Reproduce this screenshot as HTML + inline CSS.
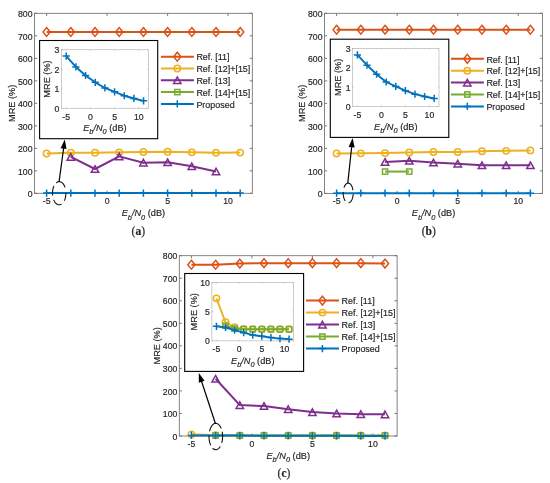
<!DOCTYPE html>
<html><head><meta charset="utf-8"><title>MRE figure</title>
<style>
html,body{margin:0;padding:0;background:#fff;}
body{width:550px;height:483px;overflow:hidden;}
svg{display:block;}
svg text{fill:#262626;font-family:'Liberation Sans', Arial, sans-serif;stroke:#262626;stroke-width:0.18px;}
</style></head><body>
<svg width="550" height="483" viewBox="0 0 550 483">
<rect width="550" height="483" fill="#fff"/>
<rect x="34.5" y="13.3" width="217.8" height="180" fill="none" stroke="#6e6e6e" stroke-width="0.85"/><path d="M46.6 193.3V190.7M46.6 13.3V15.9M107.1 193.3V190.7M107.1 13.3V15.9M167.6 193.3V190.7M167.6 13.3V15.9M228.1 193.3V190.7M228.1 13.3V15.9M34.5 193.3H37.1M252.3 193.3H249.7M34.5 170.8H37.1M252.3 170.8H249.7M34.5 148.3H37.1M252.3 148.3H249.7M34.5 125.8H37.1M252.3 125.8H249.7M34.5 103.3H37.1M252.3 103.3H249.7M34.5 80.8H37.1M252.3 80.8H249.7M34.5 58.3H37.1M252.3 58.3H249.7M34.5 35.8H37.1M252.3 35.8H249.7M34.5 13.3H37.1M252.3 13.3H249.7" stroke="#6e6e6e" stroke-width="0.935" fill="none"/><text transform="translate(46.6 201) scale(1 1.14)" font-size="8.7" text-anchor="middle" dominant-baseline="central">-5</text><text transform="translate(107.1 201) scale(1 1.14)" font-size="8.7" text-anchor="middle" dominant-baseline="central">0</text><text transform="translate(167.6 201) scale(1 1.14)" font-size="8.7" text-anchor="middle" dominant-baseline="central">5</text><text transform="translate(228.1 201) scale(1 1.14)" font-size="8.7" text-anchor="middle" dominant-baseline="central">10</text><text transform="translate(32.5 193.9) scale(1 1.14)" font-size="8.7" text-anchor="end" dominant-baseline="central">0</text><text transform="translate(32.5 171.4) scale(1 1.14)" font-size="8.7" text-anchor="end" dominant-baseline="central">100</text><text transform="translate(32.5 148.9) scale(1 1.14)" font-size="8.7" text-anchor="end" dominant-baseline="central">200</text><text transform="translate(32.5 126.4) scale(1 1.14)" font-size="8.7" text-anchor="end" dominant-baseline="central">300</text><text transform="translate(32.5 103.9) scale(1 1.14)" font-size="8.7" text-anchor="end" dominant-baseline="central">400</text><text transform="translate(32.5 81.4) scale(1 1.14)" font-size="8.7" text-anchor="end" dominant-baseline="central">500</text><text transform="translate(32.5 58.9) scale(1 1.14)" font-size="8.7" text-anchor="end" dominant-baseline="central">600</text><text transform="translate(32.5 36.4) scale(1 1.14)" font-size="8.7" text-anchor="end" dominant-baseline="central">700</text><text transform="translate(32.5 13.9) scale(1 1.14)" font-size="8.7" text-anchor="end" dominant-baseline="central">800</text><text transform="translate(14.6 103.3) rotate(-90) scale(1 0.9)" font-size="9.2" text-anchor="middle">MRE (%)</text><text transform="translate(143.4 215.9) scale(1 0.9)" font-size="9.2" text-anchor="middle"><tspan font-style="italic">E</tspan><tspan font-style="italic" font-size="7.36" dy="4.0">b</tspan><tspan font-style="italic" dy="-4.0">/N</tspan><tspan font-style="italic" font-size="7.36" dy="4.0">0</tspan><tspan dy="-4.0"> (dB)</tspan></text><polyline points="46.6,31.98 70.8,31.98 95,31.98 119.2,31.98 143.4,31.98 167.6,31.98 191.8,31.98 216,31.98 240.2,31.98" fill="none" stroke="#D95319" stroke-width="2.0" stroke-linejoin="round"/><path d="M46.6 27.58L50.2 31.98L46.6 36.38L43 31.98Z" fill="none" stroke="#D95319" stroke-width="1.5"/><path d="M70.8 27.58L74.4 31.98L70.8 36.38L67.2 31.98Z" fill="none" stroke="#D95319" stroke-width="1.5"/><path d="M95 27.58L98.6 31.98L95 36.38L91.4 31.98Z" fill="none" stroke="#D95319" stroke-width="1.5"/><path d="M119.2 27.58L122.8 31.98L119.2 36.38L115.6 31.98Z" fill="none" stroke="#D95319" stroke-width="1.5"/><path d="M143.4 27.58L147 31.98L143.4 36.38L139.8 31.98Z" fill="none" stroke="#D95319" stroke-width="1.5"/><path d="M167.6 27.58L171.2 31.98L167.6 36.38L164 31.98Z" fill="none" stroke="#D95319" stroke-width="1.5"/><path d="M191.8 27.58L195.4 31.98L191.8 36.38L188.2 31.98Z" fill="none" stroke="#D95319" stroke-width="1.5"/><path d="M216 27.58L219.6 31.98L216 36.38L212.4 31.98Z" fill="none" stroke="#D95319" stroke-width="1.5"/><path d="M240.2 27.58L243.8 31.98L240.2 36.38L236.6 31.98Z" fill="none" stroke="#D95319" stroke-width="1.5"/><polyline points="46.6,153.48 70.8,152.8 95,152.8 119.2,152.35 143.4,151.9 167.6,151.68 191.8,152.35 216,152.8 240.2,152.58" fill="none" stroke="#EDB120" stroke-width="2.0" stroke-linejoin="round"/><circle cx="46.6" cy="153.48" r="3.2" fill="none" stroke="#EDB120" stroke-width="1.5"/><circle cx="70.8" cy="152.8" r="3.2" fill="none" stroke="#EDB120" stroke-width="1.5"/><circle cx="95" cy="152.8" r="3.2" fill="none" stroke="#EDB120" stroke-width="1.5"/><circle cx="119.2" cy="152.35" r="3.2" fill="none" stroke="#EDB120" stroke-width="1.5"/><circle cx="143.4" cy="151.9" r="3.2" fill="none" stroke="#EDB120" stroke-width="1.5"/><circle cx="167.6" cy="151.68" r="3.2" fill="none" stroke="#EDB120" stroke-width="1.5"/><circle cx="191.8" cy="152.35" r="3.2" fill="none" stroke="#EDB120" stroke-width="1.5"/><circle cx="216" cy="152.8" r="3.2" fill="none" stroke="#EDB120" stroke-width="1.5"/><circle cx="240.2" cy="152.58" r="3.2" fill="none" stroke="#EDB120" stroke-width="1.5"/><polyline points="70.8,156.85 95,169 119.2,156.4 143.4,162.7 167.6,162.25 191.8,166.3 216,171.48" fill="none" stroke="#7E2F8E" stroke-width="2.0" stroke-linejoin="round"/><path d="M70.8 153.55L74.5 160.15L67.1 160.15Z" fill="none" stroke="#7E2F8E" stroke-width="1.5" stroke-linejoin="miter"/><path d="M95 165.7L98.7 172.3L91.3 172.3Z" fill="none" stroke="#7E2F8E" stroke-width="1.5" stroke-linejoin="miter"/><path d="M119.2 153.1L122.9 159.7L115.5 159.7Z" fill="none" stroke="#7E2F8E" stroke-width="1.5" stroke-linejoin="miter"/><path d="M143.4 159.4L147.1 166L139.7 166Z" fill="none" stroke="#7E2F8E" stroke-width="1.5" stroke-linejoin="miter"/><path d="M167.6 158.95L171.3 165.55L163.9 165.55Z" fill="none" stroke="#7E2F8E" stroke-width="1.5" stroke-linejoin="miter"/><path d="M191.8 163L195.5 169.6L188.1 169.6Z" fill="none" stroke="#7E2F8E" stroke-width="1.5" stroke-linejoin="miter"/><path d="M216 168.18L219.7 174.78L212.3 174.78Z" fill="none" stroke="#7E2F8E" stroke-width="1.5" stroke-linejoin="miter"/><polyline points="46.6,193.08 70.8,193.08 95,193.08 119.2,193.08 143.4,193.08 167.6,193.08 191.8,193.08 216,193.08 240.2,193.08" fill="none" stroke="#0072BD" stroke-width="2.0" stroke-linejoin="round"/><path d="M43 193.08H50.2M46.6 189.48V196.68" stroke="#0072BD" stroke-width="1.5"/><path d="M67.2 193.08H74.4M70.8 189.48V196.68" stroke="#0072BD" stroke-width="1.5"/><path d="M91.4 193.08H98.6M95 189.48V196.68" stroke="#0072BD" stroke-width="1.5"/><path d="M115.6 193.08H122.8M119.2 189.48V196.68" stroke="#0072BD" stroke-width="1.5"/><path d="M139.8 193.08H147M143.4 189.48V196.68" stroke="#0072BD" stroke-width="1.5"/><path d="M164 193.08H171.2M167.6 189.48V196.68" stroke="#0072BD" stroke-width="1.5"/><path d="M188.2 193.08H195.4M191.8 189.48V196.68" stroke="#0072BD" stroke-width="1.5"/><path d="M212.4 193.08H219.6M216 189.48V196.68" stroke="#0072BD" stroke-width="1.5"/><path d="M236.6 193.08H243.8M240.2 189.48V196.68" stroke="#0072BD" stroke-width="1.5"/><rect x="39.6" y="40.5" width="118.1" height="98.2" fill="#fff" stroke="#000" stroke-width="1.1"/><rect x="61.4" y="49.8" width="87" height="58.4" fill="#fff"/><rect x="61.4" y="49.8" width="87" height="58.4" fill="none" stroke="#9a9a9a" stroke-width="0.5"/><path d="M66.23 108.2V107.2M66.23 49.8V50.8M90.4 108.2V107.2M90.4 49.8V50.8M114.57 108.2V107.2M114.57 49.8V50.8M138.73 108.2V107.2M138.73 49.8V50.8M61.4 108.2H62.4M148.4 108.2H147.4M61.4 88.73H62.4M148.4 88.73H147.4M61.4 69.27H62.4M148.4 69.27H147.4M61.4 49.8H62.4M148.4 49.8H147.4" stroke="#9a9a9a" stroke-width="0.55" fill="none"/><text transform="translate(66.23 116.4) scale(1 1.14)" font-size="8.7" text-anchor="middle" dominant-baseline="central">-5</text><text transform="translate(90.4 116.4) scale(1 1.14)" font-size="8.7" text-anchor="middle" dominant-baseline="central">0</text><text transform="translate(114.57 116.4) scale(1 1.14)" font-size="8.7" text-anchor="middle" dominant-baseline="central">5</text><text transform="translate(138.73 116.4) scale(1 1.14)" font-size="8.7" text-anchor="middle" dominant-baseline="central">10</text><text transform="translate(59.4 108.6) scale(1 1.14)" font-size="8.7" text-anchor="end" dominant-baseline="central">0</text><text transform="translate(59.4 89.13) scale(1 1.14)" font-size="8.7" text-anchor="end" dominant-baseline="central">1</text><text transform="translate(59.4 69.67) scale(1 1.14)" font-size="8.7" text-anchor="end" dominant-baseline="central">2</text><text transform="translate(59.4 50.2) scale(1 1.14)" font-size="8.7" text-anchor="end" dominant-baseline="central">3</text><text transform="translate(50.4 79) rotate(-90) scale(1 0.9)" font-size="9.2" text-anchor="middle">MRE (%)</text><text transform="translate(104.9 130.8) scale(1 0.9)" font-size="9.2" text-anchor="middle"><tspan font-style="italic">E</tspan><tspan font-style="italic" font-size="7.36" dy="4.0">b</tspan><tspan font-style="italic" dy="-4.0">/N</tspan><tspan font-style="italic" font-size="7.36" dy="4.0">0</tspan><tspan dy="-4.0"> (dB)</tspan></text><polyline points="66.23,56.03 75.9,66.93 85.57,75.5 95.23,82.31 104.9,87.95 114.57,91.85 124.23,95.74 133.9,98.47 143.57,100.8" fill="none" stroke="#0072BD" stroke-width="1.9" stroke-linejoin="round"/><path d="M62.63 56.03H69.83M66.23 52.43V59.63" stroke="#0072BD" stroke-width="1.5"/><path d="M72.3 66.93H79.5M75.9 63.33V70.53" stroke="#0072BD" stroke-width="1.5"/><path d="M81.97 75.5H89.17M85.57 71.9V79.1" stroke="#0072BD" stroke-width="1.5"/><path d="M91.63 82.31H98.83M95.23 78.71V85.91" stroke="#0072BD" stroke-width="1.5"/><path d="M101.3 87.95H108.5M104.9 84.35V91.55" stroke="#0072BD" stroke-width="1.5"/><path d="M110.97 91.85H118.17M114.57 88.25V95.45" stroke="#0072BD" stroke-width="1.5"/><path d="M120.63 95.74H127.83M124.23 92.14V99.34" stroke="#0072BD" stroke-width="1.5"/><path d="M130.3 98.47H137.5M133.9 94.87V102.07" stroke="#0072BD" stroke-width="1.5"/><path d="M139.97 100.8H147.17M143.57 97.2V104.4" stroke="#0072BD" stroke-width="1.5"/><path d="M160.9 56.7H193.9" stroke="#D95319" stroke-width="2.0"/><path d="M177.3 52.3L180.9 56.7L177.3 61.1L173.7 56.7Z" fill="none" stroke="#D95319" stroke-width="1.5"/><text transform="translate(196.4 57.5) scale(1 0.95)" font-size="8.95" dominant-baseline="central">Ref. [11]</text><path d="M160.9 68.5H193.9" stroke="#EDB120" stroke-width="2.0"/><circle cx="177.3" cy="68.5" r="3.2" fill="none" stroke="#EDB120" stroke-width="1.5"/><text transform="translate(196.4 69.3) scale(1 0.95)" font-size="8.95" dominant-baseline="central">Ref. [12]+[15]</text><path d="M160.9 80.3H193.9" stroke="#7E2F8E" stroke-width="2.0"/><path d="M177.3 77L181 83.6L173.6 83.6Z" fill="none" stroke="#7E2F8E" stroke-width="1.5" stroke-linejoin="miter"/><text transform="translate(196.4 81.1) scale(1 0.95)" font-size="8.95" dominant-baseline="central">Ref. [13]</text><path d="M160.9 92.1H193.9" stroke="#77AC30" stroke-width="2.0"/><rect x="174.7" y="89.5" width="5.2" height="5.2" fill="none" stroke="#77AC30" stroke-width="1.5"/><text transform="translate(196.4 92.9) scale(1 0.95)" font-size="8.95" dominant-baseline="central">Ref. [14]+[15]</text><path d="M160.9 103.9H193.9" stroke="#0072BD" stroke-width="2.0"/><path d="M173.7 103.9H180.9M177.3 100.3V107.5" stroke="#0072BD" stroke-width="1.5"/><text transform="translate(196.4 104.7) scale(1 0.95)" font-size="8.95" dominant-baseline="central">Proposed</text><path d="M56.47 182.6L57.16 182.15L57.88 181.83L58.61 181.65L59.34 181.6L60.08 181.7L60.8 181.94L61.51 182.31L62.19 182.82L62.83 183.45L63.42 184.19L63.97 185.05L64.46 186.01L64.88 187.05M65.9 193.2L65.86 194.48L65.74 195.74L65.53 196.98L65.26 198.16L64.9 199.29L64.48 200.34M61.27 204.23L60.54 204.57L59.79 204.75L59.04 204.8L58.29 204.69L57.55 204.44L56.83 204.05L56.14 203.52L55.49 202.86L54.89 202.07L54.34 201.18L53.85 200.18M52.58 195.01L52.51 193.72L52.52 192.42L52.61 191.13L52.78 189.86L53.04 188.64L53.37 187.48L53.78 186.38" fill="none" stroke="#111" stroke-width="1.1" stroke-linecap="round"/><path d="M59.1 181.5L63.7 147.63" stroke="#000" stroke-width="1.2"/><path d="M64.8 139.5L66.54 149.02L60.59 148.21Z" fill="#000"/><text x="138.3" y="235" style="font-family:'Liberation Serif', 'Times New Roman', serif" font-size="11.6" text-anchor="middle">(<tspan style="font-weight:bold">a</tspan>)</text><rect x="324.5" y="13.3" width="218" height="180.1" fill="none" stroke="#6e6e6e" stroke-width="0.85"/><path d="M336.61 193.4V190.8M336.61 13.3V15.9M397.17 193.4V190.8M397.17 13.3V15.9M457.72 193.4V190.8M457.72 13.3V15.9M518.28 193.4V190.8M518.28 13.3V15.9M324.5 193.4H327.1M542.5 193.4H539.9M324.5 170.89H327.1M542.5 170.89H539.9M324.5 148.38H327.1M542.5 148.38H539.9M324.5 125.86H327.1M542.5 125.86H539.9M324.5 103.35H327.1M542.5 103.35H539.9M324.5 80.84H327.1M542.5 80.84H539.9M324.5 58.33H327.1M542.5 58.33H539.9M324.5 35.81H327.1M542.5 35.81H539.9M324.5 13.3H327.1M542.5 13.3H539.9" stroke="#6e6e6e" stroke-width="0.935" fill="none"/><text transform="translate(336.61 201.1) scale(1 1.14)" font-size="8.7" text-anchor="middle" dominant-baseline="central">-5</text><text transform="translate(397.17 201.1) scale(1 1.14)" font-size="8.7" text-anchor="middle" dominant-baseline="central">0</text><text transform="translate(457.72 201.1) scale(1 1.14)" font-size="8.7" text-anchor="middle" dominant-baseline="central">5</text><text transform="translate(518.28 201.1) scale(1 1.14)" font-size="8.7" text-anchor="middle" dominant-baseline="central">10</text><text transform="translate(322.5 194) scale(1 1.14)" font-size="8.7" text-anchor="end" dominant-baseline="central">0</text><text transform="translate(322.5 171.49) scale(1 1.14)" font-size="8.7" text-anchor="end" dominant-baseline="central">100</text><text transform="translate(322.5 148.97) scale(1 1.14)" font-size="8.7" text-anchor="end" dominant-baseline="central">200</text><text transform="translate(322.5 126.46) scale(1 1.14)" font-size="8.7" text-anchor="end" dominant-baseline="central">300</text><text transform="translate(322.5 103.95) scale(1 1.14)" font-size="8.7" text-anchor="end" dominant-baseline="central">400</text><text transform="translate(322.5 81.44) scale(1 1.14)" font-size="8.7" text-anchor="end" dominant-baseline="central">500</text><text transform="translate(322.5 58.93) scale(1 1.14)" font-size="8.7" text-anchor="end" dominant-baseline="central">600</text><text transform="translate(322.5 36.41) scale(1 1.14)" font-size="8.7" text-anchor="end" dominant-baseline="central">700</text><text transform="translate(322.5 13.9) scale(1 1.14)" font-size="8.7" text-anchor="end" dominant-baseline="central">800</text><text transform="translate(304.5 103.35) rotate(-90) scale(1 0.9)" font-size="9.2" text-anchor="middle">MRE (%)</text><text transform="translate(433.5 216) scale(1 0.9)" font-size="9.2" text-anchor="middle"><tspan font-style="italic">E</tspan><tspan font-style="italic" font-size="7.36" dy="4.0">b</tspan><tspan font-style="italic" dy="-4.0">/N</tspan><tspan font-style="italic" font-size="7.36" dy="4.0">0</tspan><tspan dy="-4.0"> (dB)</tspan></text><polyline points="336.61,29.73 360.83,29.73 385.06,29.73 409.28,29.73 433.5,29.73 457.72,29.73 481.94,29.73 506.17,29.73 530.39,29.73" fill="none" stroke="#D95319" stroke-width="2.0" stroke-linejoin="round"/><path d="M336.61 25.33L340.21 29.73L336.61 34.13L333.01 29.73Z" fill="none" stroke="#D95319" stroke-width="1.5"/><path d="M360.83 25.33L364.43 29.73L360.83 34.13L357.23 29.73Z" fill="none" stroke="#D95319" stroke-width="1.5"/><path d="M385.06 25.33L388.66 29.73L385.06 34.13L381.46 29.73Z" fill="none" stroke="#D95319" stroke-width="1.5"/><path d="M409.28 25.33L412.88 29.73L409.28 34.13L405.68 29.73Z" fill="none" stroke="#D95319" stroke-width="1.5"/><path d="M433.5 25.33L437.1 29.73L433.5 34.13L429.9 29.73Z" fill="none" stroke="#D95319" stroke-width="1.5"/><path d="M457.72 25.33L461.32 29.73L457.72 34.13L454.12 29.73Z" fill="none" stroke="#D95319" stroke-width="1.5"/><path d="M481.94 25.33L485.54 29.73L481.94 34.13L478.34 29.73Z" fill="none" stroke="#D95319" stroke-width="1.5"/><path d="M506.17 25.33L509.77 29.73L506.17 34.13L502.57 29.73Z" fill="none" stroke="#D95319" stroke-width="1.5"/><path d="M530.39 25.33L533.99 29.73L530.39 34.13L526.79 29.73Z" fill="none" stroke="#D95319" stroke-width="1.5"/><polyline points="336.61,153.55 360.83,153.33 385.06,153.1 409.28,152.43 433.5,151.98 457.72,151.98 481.94,151.3 506.17,150.85 530.39,150.4" fill="none" stroke="#EDB120" stroke-width="2.0" stroke-linejoin="round"/><circle cx="336.61" cy="153.55" r="3.2" fill="none" stroke="#EDB120" stroke-width="1.5"/><circle cx="360.83" cy="153.33" r="3.2" fill="none" stroke="#EDB120" stroke-width="1.5"/><circle cx="385.06" cy="153.1" r="3.2" fill="none" stroke="#EDB120" stroke-width="1.5"/><circle cx="409.28" cy="152.43" r="3.2" fill="none" stroke="#EDB120" stroke-width="1.5"/><circle cx="433.5" cy="151.98" r="3.2" fill="none" stroke="#EDB120" stroke-width="1.5"/><circle cx="457.72" cy="151.98" r="3.2" fill="none" stroke="#EDB120" stroke-width="1.5"/><circle cx="481.94" cy="151.3" r="3.2" fill="none" stroke="#EDB120" stroke-width="1.5"/><circle cx="506.17" cy="150.85" r="3.2" fill="none" stroke="#EDB120" stroke-width="1.5"/><circle cx="530.39" cy="150.4" r="3.2" fill="none" stroke="#EDB120" stroke-width="1.5"/><polyline points="385.06,161.88 409.28,160.76 433.5,162.56 457.72,163.68 481.94,165.26 506.17,165.26 530.39,165.26" fill="none" stroke="#7E2F8E" stroke-width="2.0" stroke-linejoin="round"/><path d="M385.06 158.58L388.76 165.18L381.36 165.18Z" fill="none" stroke="#7E2F8E" stroke-width="1.5" stroke-linejoin="miter"/><path d="M409.28 157.46L412.98 164.06L405.58 164.06Z" fill="none" stroke="#7E2F8E" stroke-width="1.5" stroke-linejoin="miter"/><path d="M433.5 159.26L437.2 165.86L429.8 165.86Z" fill="none" stroke="#7E2F8E" stroke-width="1.5" stroke-linejoin="miter"/><path d="M457.72 160.38L461.42 166.98L454.02 166.98Z" fill="none" stroke="#7E2F8E" stroke-width="1.5" stroke-linejoin="miter"/><path d="M481.94 161.96L485.64 168.56L478.24 168.56Z" fill="none" stroke="#7E2F8E" stroke-width="1.5" stroke-linejoin="miter"/><path d="M506.17 161.96L509.87 168.56L502.47 168.56Z" fill="none" stroke="#7E2F8E" stroke-width="1.5" stroke-linejoin="miter"/><path d="M530.39 161.96L534.09 168.56L526.69 168.56Z" fill="none" stroke="#7E2F8E" stroke-width="1.5" stroke-linejoin="miter"/><polyline points="385.06,171.56 409.28,171.56" fill="none" stroke="#77AC30" stroke-width="2.0" stroke-linejoin="round"/><rect x="382.46" y="168.96" width="5.2" height="5.2" fill="none" stroke="#77AC30" stroke-width="1.5"/><rect x="406.68" y="168.96" width="5.2" height="5.2" fill="none" stroke="#77AC30" stroke-width="1.5"/><polyline points="336.61,193.17 360.83,193.17 385.06,193.17 409.28,193.17 433.5,193.17 457.72,193.17 481.94,193.17 506.17,193.17 530.39,193.17" fill="none" stroke="#0072BD" stroke-width="2.0" stroke-linejoin="round"/><path d="M333.01 193.17H340.21M336.61 189.57V196.77" stroke="#0072BD" stroke-width="1.5"/><path d="M357.23 193.17H364.43M360.83 189.57V196.77" stroke="#0072BD" stroke-width="1.5"/><path d="M381.46 193.17H388.66M385.06 189.57V196.77" stroke="#0072BD" stroke-width="1.5"/><path d="M405.68 193.17H412.88M409.28 189.57V196.77" stroke="#0072BD" stroke-width="1.5"/><path d="M429.9 193.17H437.1M433.5 189.57V196.77" stroke="#0072BD" stroke-width="1.5"/><path d="M454.12 193.17H461.32M457.72 189.57V196.77" stroke="#0072BD" stroke-width="1.5"/><path d="M478.34 193.17H485.54M481.94 189.57V196.77" stroke="#0072BD" stroke-width="1.5"/><path d="M502.57 193.17H509.77M506.17 189.57V196.77" stroke="#0072BD" stroke-width="1.5"/><path d="M526.79 193.17H533.99M530.39 189.57V196.77" stroke="#0072BD" stroke-width="1.5"/><rect x="330.3" y="39.2" width="118.5" height="98.2" fill="#fff" stroke="#000" stroke-width="1.1"/><rect x="352.6" y="48.3" width="86.4" height="58.1" fill="#fff"/><rect x="352.6" y="48.3" width="86.4" height="58.1" fill="none" stroke="#9a9a9a" stroke-width="0.5"/><path d="M357.4 106.4V105.4M357.4 48.3V49.3M381.4 106.4V105.4M381.4 48.3V49.3M405.4 106.4V105.4M405.4 48.3V49.3M429.4 106.4V105.4M429.4 48.3V49.3M352.6 106.4H353.6M439 106.4H438M352.6 87.03H353.6M439 87.03H438M352.6 67.67H353.6M439 67.67H438M352.6 48.3H353.6M439 48.3H438" stroke="#9a9a9a" stroke-width="0.55" fill="none"/><text transform="translate(357.4 114.6) scale(1 1.14)" font-size="8.7" text-anchor="middle" dominant-baseline="central">-5</text><text transform="translate(381.4 114.6) scale(1 1.14)" font-size="8.7" text-anchor="middle" dominant-baseline="central">0</text><text transform="translate(405.4 114.6) scale(1 1.14)" font-size="8.7" text-anchor="middle" dominant-baseline="central">5</text><text transform="translate(429.4 114.6) scale(1 1.14)" font-size="8.7" text-anchor="middle" dominant-baseline="central">10</text><text transform="translate(350.6 106.8) scale(1 1.14)" font-size="8.7" text-anchor="end" dominant-baseline="central">0</text><text transform="translate(350.6 87.43) scale(1 1.14)" font-size="8.7" text-anchor="end" dominant-baseline="central">1</text><text transform="translate(350.6 68.07) scale(1 1.14)" font-size="8.7" text-anchor="end" dominant-baseline="central">2</text><text transform="translate(350.6 48.7) scale(1 1.14)" font-size="8.7" text-anchor="end" dominant-baseline="central">3</text><text transform="translate(340.8 77.35) rotate(-90) scale(1 0.9)" font-size="9.2" text-anchor="middle">MRE (%)</text><text transform="translate(395.8 129.8) scale(1 0.9)" font-size="9.2" text-anchor="middle"><tspan font-style="italic">E</tspan><tspan font-style="italic" font-size="7.36" dy="4.0">b</tspan><tspan font-style="italic" dy="-4.0">/N</tspan><tspan font-style="italic" font-size="7.36" dy="4.0">0</tspan><tspan dy="-4.0"> (dB)</tspan></text><polyline points="357.4,54.88 367,65.15 376.6,74.25 386.2,82 395.8,86.45 405.4,90.71 415,94.2 424.6,96.52 434.2,98.46" fill="none" stroke="#0072BD" stroke-width="1.9" stroke-linejoin="round"/><path d="M353.8 54.88H361M357.4 51.28V58.48" stroke="#0072BD" stroke-width="1.5"/><path d="M363.4 65.15H370.6M367 61.55V68.75" stroke="#0072BD" stroke-width="1.5"/><path d="M373 74.25H380.2M376.6 70.65V77.85" stroke="#0072BD" stroke-width="1.5"/><path d="M382.6 82H389.8M386.2 78.4V85.6" stroke="#0072BD" stroke-width="1.5"/><path d="M392.2 86.45H399.4M395.8 82.85V90.05" stroke="#0072BD" stroke-width="1.5"/><path d="M401.8 90.71H409M405.4 87.11V94.31" stroke="#0072BD" stroke-width="1.5"/><path d="M411.4 94.2H418.6M415 90.6V97.8" stroke="#0072BD" stroke-width="1.5"/><path d="M421 96.52H428.2M424.6 92.92V100.12" stroke="#0072BD" stroke-width="1.5"/><path d="M430.6 98.46H437.8M434.2 94.86V102.06" stroke="#0072BD" stroke-width="1.5"/><path d="M450.9 58.8H483.9" stroke="#D95319" stroke-width="2.0"/><path d="M467.3 54.4L470.9 58.8L467.3 63.2L463.7 58.8Z" fill="none" stroke="#D95319" stroke-width="1.5"/><text transform="translate(486.4 59.6) scale(1 0.95)" font-size="8.95" dominant-baseline="central">Ref. [11]</text><path d="M450.9 70.7H483.9" stroke="#EDB120" stroke-width="2.0"/><circle cx="467.3" cy="70.7" r="3.2" fill="none" stroke="#EDB120" stroke-width="1.5"/><text transform="translate(486.4 71.5) scale(1 0.95)" font-size="8.95" dominant-baseline="central">Ref. [12]+[15]</text><path d="M450.9 82.6H483.9" stroke="#7E2F8E" stroke-width="2.0"/><path d="M467.3 79.3L471 85.9L463.6 85.9Z" fill="none" stroke="#7E2F8E" stroke-width="1.5" stroke-linejoin="miter"/><text transform="translate(486.4 83.4) scale(1 0.95)" font-size="8.95" dominant-baseline="central">Ref. [13]</text><path d="M450.9 94.5H483.9" stroke="#77AC30" stroke-width="2.0"/><rect x="464.7" y="91.9" width="5.2" height="5.2" fill="none" stroke="#77AC30" stroke-width="1.5"/><text transform="translate(486.4 95.3) scale(1 0.95)" font-size="8.95" dominant-baseline="central">Ref. [14]+[15]</text><path d="M450.9 106.4H483.9" stroke="#0072BD" stroke-width="2.0"/><path d="M463.7 106.4H470.9M467.3 102.8V110" stroke="#0072BD" stroke-width="1.5"/><text transform="translate(486.4 107.2) scale(1 0.95)" font-size="8.95" dominant-baseline="central">Proposed</text><path d="M344.15 187.18L344.5 186.34L344.89 185.59L345.31 184.92L345.78 184.34L346.27 183.87L346.78 183.51L347.31 183.26L347.85 183.12L348.4 183.11L348.94 183.21L349.47 183.43L349.99 183.76L350.49 184.2L350.96 184.74L351.4 185.39L351.8 186.12L352.15 186.94L352.46 187.83L352.72 188.78L352.93 189.78M353.14 194.55L353.03 195.56L352.87 196.55L352.66 197.49L352.39 198.39L352.09 199.23L351.74 200L351.35 200.69L350.92 201.3L350.47 201.82L349.99 202.24L349.49 202.56L348.98 202.78M344.99 200.58L344.6 199.88L344.26 199.1L343.96 198.25L343.71 197.34L343.5 196.39L343.35 195.4L343.25 194.38L343.2 193.35L343.21 192.31" fill="none" stroke="#111" stroke-width="1.1" stroke-linecap="round"/><path d="M347.8 183.1L351.73 146.25" stroke="#000" stroke-width="1.2"/><path d="M352.6 138.1L354.61 147.57L348.64 146.93Z" fill="#000"/><text x="428.75" y="235" style="font-family:'Liberation Serif', 'Times New Roman', serif" font-size="11.6" text-anchor="middle">(<tspan style="font-weight:bold">b</tspan>)</text><rect x="179.3" y="255.7" width="217.8" height="180.3" fill="none" stroke="#6e6e6e" stroke-width="0.85"/><path d="M191.4 436V433.4M191.4 255.7V258.3M251.9 436V433.4M251.9 255.7V258.3M312.4 436V433.4M312.4 255.7V258.3M372.9 436V433.4M372.9 255.7V258.3M179.3 436H181.9M397.1 436H394.5M179.3 413.46H181.9M397.1 413.46H394.5M179.3 390.93H181.9M397.1 390.93H394.5M179.3 368.39H181.9M397.1 368.39H394.5M179.3 345.85H181.9M397.1 345.85H394.5M179.3 323.31H181.9M397.1 323.31H394.5M179.3 300.77H181.9M397.1 300.77H394.5M179.3 278.24H181.9M397.1 278.24H394.5M179.3 255.7H181.9M397.1 255.7H394.5" stroke="#6e6e6e" stroke-width="0.935" fill="none"/><text transform="translate(191.4 443.7) scale(1 1.14)" font-size="8.7" text-anchor="middle" dominant-baseline="central">-5</text><text transform="translate(251.9 443.7) scale(1 1.14)" font-size="8.7" text-anchor="middle" dominant-baseline="central">0</text><text transform="translate(312.4 443.7) scale(1 1.14)" font-size="8.7" text-anchor="middle" dominant-baseline="central">5</text><text transform="translate(372.9 443.7) scale(1 1.14)" font-size="8.7" text-anchor="middle" dominant-baseline="central">10</text><text transform="translate(177.3 436.4) scale(1 1.14)" font-size="8.7" text-anchor="end" dominant-baseline="central">0</text><text transform="translate(177.3 413.86) scale(1 1.14)" font-size="8.7" text-anchor="end" dominant-baseline="central">100</text><text transform="translate(177.3 391.32) scale(1 1.14)" font-size="8.7" text-anchor="end" dominant-baseline="central">200</text><text transform="translate(177.3 368.79) scale(1 1.14)" font-size="8.7" text-anchor="end" dominant-baseline="central">300</text><text transform="translate(177.3 346.25) scale(1 1.14)" font-size="8.7" text-anchor="end" dominant-baseline="central">400</text><text transform="translate(177.3 323.71) scale(1 1.14)" font-size="8.7" text-anchor="end" dominant-baseline="central">500</text><text transform="translate(177.3 301.17) scale(1 1.14)" font-size="8.7" text-anchor="end" dominant-baseline="central">600</text><text transform="translate(177.3 278.64) scale(1 1.14)" font-size="8.7" text-anchor="end" dominant-baseline="central">700</text><text transform="translate(177.3 256.1) scale(1 1.14)" font-size="8.7" text-anchor="end" dominant-baseline="central">800</text><text transform="translate(159.7 345.85) rotate(-90) scale(1 0.9)" font-size="9.2" text-anchor="middle">MRE (%)</text><text transform="translate(288.2 458.6) scale(1 0.9)" font-size="9.2" text-anchor="middle"><tspan font-style="italic">E</tspan><tspan font-style="italic" font-size="7.36" dy="4.0">b</tspan><tspan font-style="italic" dy="-4.0">/N</tspan><tspan font-style="italic" font-size="7.36" dy="4.0">0</tspan><tspan dy="-4.0"> (dB)</tspan></text><polyline points="191.4,264.72 215.6,264.72 239.8,263.59 264,263.14 288.2,263.14 312.4,263.14 336.6,263.14 360.8,263.14 385,263.59" fill="none" stroke="#D95319" stroke-width="2.0" stroke-linejoin="round"/><path d="M191.4 260.32L195 264.72L191.4 269.12L187.8 264.72Z" fill="none" stroke="#D95319" stroke-width="1.5"/><path d="M215.6 260.32L219.2 264.72L215.6 269.12L212 264.72Z" fill="none" stroke="#D95319" stroke-width="1.5"/><path d="M239.8 259.19L243.4 263.59L239.8 267.99L236.2 263.59Z" fill="none" stroke="#D95319" stroke-width="1.5"/><path d="M264 258.74L267.6 263.14L264 267.54L260.4 263.14Z" fill="none" stroke="#D95319" stroke-width="1.5"/><path d="M288.2 258.74L291.8 263.14L288.2 267.54L284.6 263.14Z" fill="none" stroke="#D95319" stroke-width="1.5"/><path d="M312.4 258.74L316 263.14L312.4 267.54L308.8 263.14Z" fill="none" stroke="#D95319" stroke-width="1.5"/><path d="M336.6 258.74L340.2 263.14L336.6 267.54L333 263.14Z" fill="none" stroke="#D95319" stroke-width="1.5"/><path d="M360.8 258.74L364.4 263.14L360.8 267.54L357.2 263.14Z" fill="none" stroke="#D95319" stroke-width="1.5"/><path d="M385 259.19L388.6 263.59L385 267.99L381.4 263.59Z" fill="none" stroke="#D95319" stroke-width="1.5"/><polyline points="191.4,434.35 215.6,435.28 239.8,435.47 264,435.54 288.2,435.55 312.4,435.55 336.6,435.55 360.8,435.55 385,435.55" fill="none" stroke="#EDB120" stroke-width="2.0" stroke-linejoin="round"/><circle cx="191.4" cy="434.35" r="3.2" fill="none" stroke="#EDB120" stroke-width="1.5"/><circle cx="215.6" cy="435.28" r="3.2" fill="none" stroke="#EDB120" stroke-width="1.5"/><circle cx="239.8" cy="435.47" r="3.2" fill="none" stroke="#EDB120" stroke-width="1.5"/><circle cx="264" cy="435.54" r="3.2" fill="none" stroke="#EDB120" stroke-width="1.5"/><circle cx="288.2" cy="435.55" r="3.2" fill="none" stroke="#EDB120" stroke-width="1.5"/><circle cx="312.4" cy="435.55" r="3.2" fill="none" stroke="#EDB120" stroke-width="1.5"/><circle cx="336.6" cy="435.55" r="3.2" fill="none" stroke="#EDB120" stroke-width="1.5"/><circle cx="360.8" cy="435.55" r="3.2" fill="none" stroke="#EDB120" stroke-width="1.5"/><circle cx="385" cy="435.55" r="3.2" fill="none" stroke="#EDB120" stroke-width="1.5"/><polyline points="215.6,378.75 239.8,405.12 264,406.03 288.2,409.18 312.4,412.11 336.6,413.46 360.8,414.14 385,414.36" fill="none" stroke="#7E2F8E" stroke-width="2.0" stroke-linejoin="round"/><path d="M215.6 375.45L219.3 382.05L211.9 382.05Z" fill="none" stroke="#7E2F8E" stroke-width="1.5" stroke-linejoin="miter"/><path d="M239.8 401.82L243.5 408.42L236.1 408.42Z" fill="none" stroke="#7E2F8E" stroke-width="1.5" stroke-linejoin="miter"/><path d="M264 402.73L267.7 409.33L260.3 409.33Z" fill="none" stroke="#7E2F8E" stroke-width="1.5" stroke-linejoin="miter"/><path d="M288.2 405.88L291.9 412.48L284.5 412.48Z" fill="none" stroke="#7E2F8E" stroke-width="1.5" stroke-linejoin="miter"/><path d="M312.4 408.81L316.1 415.41L308.7 415.41Z" fill="none" stroke="#7E2F8E" stroke-width="1.5" stroke-linejoin="miter"/><path d="M336.6 410.16L340.3 416.76L332.9 416.76Z" fill="none" stroke="#7E2F8E" stroke-width="1.5" stroke-linejoin="miter"/><path d="M360.8 410.84L364.5 417.44L357.1 417.44Z" fill="none" stroke="#7E2F8E" stroke-width="1.5" stroke-linejoin="miter"/><path d="M385 411.06L388.7 417.66L381.3 417.66Z" fill="none" stroke="#7E2F8E" stroke-width="1.5" stroke-linejoin="miter"/><polyline points="215.6,435.41 239.8,435.53 264,435.55 288.2,435.55 312.4,435.55 336.6,435.55 360.8,435.55 385,435.55" fill="none" stroke="#77AC30" stroke-width="2.0" stroke-linejoin="round"/><rect x="213" y="432.81" width="5.2" height="5.2" fill="none" stroke="#77AC30" stroke-width="1.5"/><rect x="237.2" y="432.93" width="5.2" height="5.2" fill="none" stroke="#77AC30" stroke-width="1.5"/><rect x="261.4" y="432.95" width="5.2" height="5.2" fill="none" stroke="#77AC30" stroke-width="1.5"/><rect x="285.6" y="432.95" width="5.2" height="5.2" fill="none" stroke="#77AC30" stroke-width="1.5"/><rect x="309.8" y="432.95" width="5.2" height="5.2" fill="none" stroke="#77AC30" stroke-width="1.5"/><rect x="334" y="432.95" width="5.2" height="5.2" fill="none" stroke="#77AC30" stroke-width="1.5"/><rect x="358.2" y="432.95" width="5.2" height="5.2" fill="none" stroke="#77AC30" stroke-width="1.5"/><rect x="382.4" y="432.95" width="5.2" height="5.2" fill="none" stroke="#77AC30" stroke-width="1.5"/><polyline points="191.4,435.44 215.6,435.48 239.8,435.58 264,435.68 288.2,435.77 312.4,435.82 336.6,435.87 360.8,435.91 385,435.93" fill="none" stroke="#0072BD" stroke-width="2.0" stroke-linejoin="round"/><path d="M187.8 435.44H195M191.4 431.84V439.04" stroke="#0072BD" stroke-width="1.5"/><path d="M212 435.48H219.2M215.6 431.88V439.08" stroke="#0072BD" stroke-width="1.5"/><path d="M236.2 435.58H243.4M239.8 431.98V439.18" stroke="#0072BD" stroke-width="1.5"/><path d="M260.4 435.68H267.6M264 432.08V439.28" stroke="#0072BD" stroke-width="1.5"/><path d="M284.6 435.77H291.8M288.2 432.17V439.37" stroke="#0072BD" stroke-width="1.5"/><path d="M308.8 435.82H316M312.4 432.22V439.42" stroke="#0072BD" stroke-width="1.5"/><path d="M333 435.87H340.2M336.6 432.27V439.47" stroke="#0072BD" stroke-width="1.5"/><path d="M357.2 435.91H364.4M360.8 432.31V439.51" stroke="#0072BD" stroke-width="1.5"/><path d="M381.4 435.93H388.6M385 432.33V439.53" stroke="#0072BD" stroke-width="1.5"/><rect x="184.7" y="273.5" width="118.9" height="97.9" fill="#fff" stroke="#000" stroke-width="1.1"/><rect x="211.9" y="282.6" width="81.7" height="58.3" fill="#fff"/><rect x="211.9" y="282.6" width="81.7" height="58.3" fill="none" stroke="#9a9a9a" stroke-width="0.5"/><path d="M216.44 340.9V339.9M216.44 282.6V283.6M239.13 340.9V339.9M239.13 282.6V283.6M261.83 340.9V339.9M261.83 282.6V283.6M284.52 340.9V339.9M284.52 282.6V283.6M211.9 340.9H212.9M293.6 340.9H292.6M211.9 311.75H212.9M293.6 311.75H292.6M211.9 282.6H212.9M293.6 282.6H292.6" stroke="#9a9a9a" stroke-width="0.55" fill="none"/><text transform="translate(216.44 349.1) scale(1 1.14)" font-size="8.7" text-anchor="middle" dominant-baseline="central">-5</text><text transform="translate(239.13 349.1) scale(1 1.14)" font-size="8.7" text-anchor="middle" dominant-baseline="central">0</text><text transform="translate(261.83 349.1) scale(1 1.14)" font-size="8.7" text-anchor="middle" dominant-baseline="central">5</text><text transform="translate(284.52 349.1) scale(1 1.14)" font-size="8.7" text-anchor="middle" dominant-baseline="central">10</text><text transform="translate(209.9 341.3) scale(1 1.14)" font-size="8.7" text-anchor="end" dominant-baseline="central">0</text><text transform="translate(209.9 312.15) scale(1 1.14)" font-size="8.7" text-anchor="end" dominant-baseline="central">5</text><text transform="translate(209.9 283) scale(1 1.14)" font-size="8.7" text-anchor="end" dominant-baseline="central">10</text><text transform="translate(196.5 311.75) rotate(-90) scale(1 0.9)" font-size="9.2" text-anchor="middle">MRE (%)</text><text transform="translate(252.75 363.5) scale(1 0.9)" font-size="9.2" text-anchor="middle"><tspan font-style="italic">E</tspan><tspan font-style="italic" font-size="7.36" dy="4.0">b</tspan><tspan font-style="italic" dy="-4.0">/N</tspan><tspan font-style="italic" font-size="7.36" dy="4.0">0</tspan><tspan dy="-4.0"> (dB)</tspan></text><polyline points="216.44,298.34 225.52,322.24 234.59,327.2 243.67,328.95 252.75,329.24 261.83,329.24 270.91,329.24 279.98,329.24 289.06,329.24" fill="none" stroke="#EDB120" stroke-width="1.9" stroke-linejoin="round"/><circle cx="216.44" cy="298.34" r="3.2" fill="none" stroke="#EDB120" stroke-width="1.5"/><circle cx="225.52" cy="322.24" r="3.2" fill="none" stroke="#EDB120" stroke-width="1.5"/><circle cx="234.59" cy="327.2" r="3.2" fill="none" stroke="#EDB120" stroke-width="1.5"/><circle cx="243.67" cy="328.95" r="3.2" fill="none" stroke="#EDB120" stroke-width="1.5"/><circle cx="252.75" cy="329.24" r="3.2" fill="none" stroke="#EDB120" stroke-width="1.5"/><circle cx="261.83" cy="329.24" r="3.2" fill="none" stroke="#EDB120" stroke-width="1.5"/><circle cx="270.91" cy="329.24" r="3.2" fill="none" stroke="#EDB120" stroke-width="1.5"/><circle cx="279.98" cy="329.24" r="3.2" fill="none" stroke="#EDB120" stroke-width="1.5"/><circle cx="289.06" cy="329.24" r="3.2" fill="none" stroke="#EDB120" stroke-width="1.5"/><polyline points="225.52,325.74 234.59,328.66 243.67,329.24 252.75,329.24 261.83,329.24 270.91,329.24 279.98,329.24 289.06,329.24" fill="none" stroke="#77AC30" stroke-width="1.9" stroke-linejoin="round"/><rect x="222.92" y="323.14" width="5.2" height="5.2" fill="none" stroke="#77AC30" stroke-width="1.5"/><rect x="231.99" y="326.06" width="5.2" height="5.2" fill="none" stroke="#77AC30" stroke-width="1.5"/><rect x="241.07" y="326.64" width="5.2" height="5.2" fill="none" stroke="#77AC30" stroke-width="1.5"/><rect x="250.15" y="326.64" width="5.2" height="5.2" fill="none" stroke="#77AC30" stroke-width="1.5"/><rect x="259.23" y="326.64" width="5.2" height="5.2" fill="none" stroke="#77AC30" stroke-width="1.5"/><rect x="268.31" y="326.64" width="5.2" height="5.2" fill="none" stroke="#77AC30" stroke-width="1.5"/><rect x="277.38" y="326.64" width="5.2" height="5.2" fill="none" stroke="#77AC30" stroke-width="1.5"/><rect x="286.46" y="326.64" width="5.2" height="5.2" fill="none" stroke="#77AC30" stroke-width="1.5"/><polyline points="216.44,326.32 225.52,327.49 234.59,330.06 243.67,332.68 252.75,335.07 261.83,336.24 270.91,337.58 279.98,338.57 289.06,339.15" fill="none" stroke="#0072BD" stroke-width="1.9" stroke-linejoin="round"/><path d="M212.84 326.32H220.04M216.44 322.72V329.93" stroke="#0072BD" stroke-width="1.5"/><path d="M221.92 327.49H229.12M225.52 323.89V331.09" stroke="#0072BD" stroke-width="1.5"/><path d="M230.99 330.06H238.19M234.59 326.46V333.66" stroke="#0072BD" stroke-width="1.5"/><path d="M240.07 332.68H247.27M243.67 329.08V336.28" stroke="#0072BD" stroke-width="1.5"/><path d="M249.15 335.07H256.35M252.75 331.47V338.67" stroke="#0072BD" stroke-width="1.5"/><path d="M258.23 336.24H265.43M261.83 332.64V339.84" stroke="#0072BD" stroke-width="1.5"/><path d="M267.31 337.58H274.51M270.91 333.98V341.18" stroke="#0072BD" stroke-width="1.5"/><path d="M276.38 338.57H283.58M279.98 334.97V342.17" stroke="#0072BD" stroke-width="1.5"/><path d="M285.46 339.15H292.66M289.06 335.55V342.75" stroke="#0072BD" stroke-width="1.5"/><path d="M306 300.6H339" stroke="#D95319" stroke-width="2.0"/><path d="M322.4 296.2L326 300.6L322.4 305L318.8 300.6Z" fill="none" stroke="#D95319" stroke-width="1.5"/><text transform="translate(341.5 301.4) scale(1 0.95)" font-size="8.95" dominant-baseline="central">Ref. [11]</text><path d="M306 312.6H339" stroke="#EDB120" stroke-width="2.0"/><circle cx="322.4" cy="312.6" r="3.2" fill="none" stroke="#EDB120" stroke-width="1.5"/><text transform="translate(341.5 313.4) scale(1 0.95)" font-size="8.95" dominant-baseline="central">Ref. [12]+[15]</text><path d="M306 324.6H339" stroke="#7E2F8E" stroke-width="2.0"/><path d="M322.4 321.3L326.1 327.9L318.7 327.9Z" fill="none" stroke="#7E2F8E" stroke-width="1.5" stroke-linejoin="miter"/><text transform="translate(341.5 325.4) scale(1 0.95)" font-size="8.95" dominant-baseline="central">Ref. [13]</text><path d="M306 336.6H339" stroke="#77AC30" stroke-width="2.0"/><rect x="319.8" y="334" width="5.2" height="5.2" fill="none" stroke="#77AC30" stroke-width="1.5"/><text transform="translate(341.5 337.4) scale(1 0.95)" font-size="8.95" dominant-baseline="central">Ref. [14]+[15]</text><path d="M306 348.6H339" stroke="#0072BD" stroke-width="2.0"/><path d="M318.8 348.6H326M322.4 345V352.2" stroke="#0072BD" stroke-width="1.5"/><text transform="translate(341.5 349.4) scale(1 0.95)" font-size="8.95" dominant-baseline="central">Proposed</text><path d="M209.64 430.92L209.97 429.69L210.38 428.54L210.84 427.47L211.36 426.51L211.93 425.65L212.54 424.92L213.18 424.32L213.86 423.85L214.56 423.52L215.27 423.34L215.99 423.31L216.7 423.42L217.41 423.67L218.1 424.08L218.76 424.61L219.39 425.29L219.98 426.08L220.52 427L221.01 428.02M222.19 431.99L222.42 433.47L222.56 434.99L222.6 436.53L222.55 438.08L222.41 439.6L222.18 441.08L221.86 442.49M220.08 446.76L219.46 447.62L218.8 448.34L218.1 448.92L217.38 449.34L216.63 449.6L215.87 449.7L215.11 449.63L214.36 449.4L213.63 449.01L212.93 448.46M210.52 444.81L210.1 443.69L209.74 442.49L209.45 441.23L209.23 439.92L209.08 438.56L209.01 437.19L209.01 435.81" fill="none" stroke="#111" stroke-width="1.1" stroke-linecap="round"/><path d="M215.4 423.5L201.36 380.79" stroke="#000" stroke-width="1.2"/><path d="M198.8 373L204.52 380.8L198.82 382.68Z" fill="#000"/><text x="284" y="476.8" style="font-family:'Liberation Serif', 'Times New Roman', serif" font-size="11.6" text-anchor="middle">(<tspan style="font-weight:bold">c</tspan>)</text>
</svg>
</body></html>
